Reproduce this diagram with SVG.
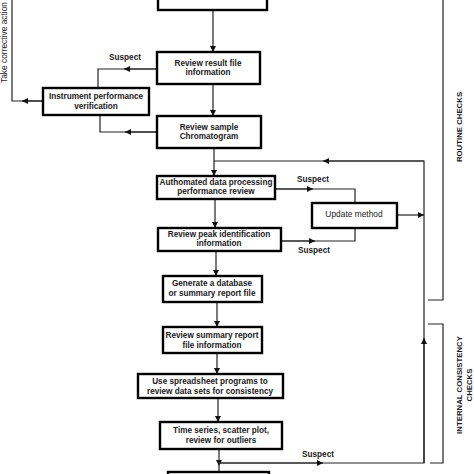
<svg xmlns="http://www.w3.org/2000/svg" width="474" height="474" viewBox="0 0 474 474">
<defs>
<style>
.box{fill:#fff;stroke:#000;stroke-width:2.4}
.t{font-family:"Liberation Sans",Arial,sans-serif;font-size:8.2px;font-weight:bold;fill:#1a1a1a;text-anchor:middle}
.tn{font-family:"Liberation Sans",Arial,sans-serif;font-size:8.4px;fill:#1a1a1a;text-anchor:middle}
.ln{fill:none;stroke:#222;stroke-width:1.2}
.side{font-family:"Liberation Sans",Arial,sans-serif;font-size:7.8px;font-weight:bold;fill:#1a1a1a;text-anchor:middle}
</style>
<marker id="ah" viewBox="0 0 10 10" refX="10" refY="5" markerWidth="6" markerHeight="6" markerUnits="userSpaceOnUse" orient="auto">
<path d="M0,0L10,5L0,10z" fill="#111"/>
</marker>
</defs>
<rect width="474" height="474" fill="#fff"/>

<g id="connectors">
<line class="ln" x1="213" y1="10" x2="213" y2="52" marker-end="url(#ah)"/>
<line class="ln" x1="213" y1="84" x2="213" y2="116" marker-end="url(#ah)"/>
<line class="ln" x1="214" y1="148" x2="214" y2="176" marker-end="url(#ah)"/>
<line class="ln" x1="215" y1="199" x2="215" y2="228" marker-end="url(#ah)"/>
<line class="ln" x1="216" y1="251" x2="216" y2="276" marker-end="url(#ah)"/>
<line class="ln" x1="217" y1="302" x2="217" y2="327" marker-end="url(#ah)"/>
<line class="ln" x1="217" y1="353" x2="217" y2="374" marker-end="url(#ah)"/>
<line class="ln" x1="218" y1="398" x2="218" y2="422" marker-end="url(#ah)"/>
<line class="ln" x1="219" y1="449" x2="219" y2="466" marker-end="url(#ah)"/>
<line class="ln" x1="219" y1="466" x2="219" y2="474"/>

<polyline class="ln" points="157,69 98,69 98,88"/>
<line class="ln" x1="157" y1="69" x2="124" y2="69" marker-end="url(#ah)"/>
<polyline class="ln" points="43,101 12,101 12,0"/>
<line class="ln" x1="43" y1="101" x2="22" y2="101" marker-end="url(#ah)"/>
<polyline class="ln" points="100,115 100,132 157,132"/>
<line class="ln" x1="157" y1="132" x2="125" y2="132" marker-end="url(#ah)"/>

<polyline class="ln" points="219,463 424,463 424,161 214,161"/>
<line class="ln" x1="219" y1="463" x2="323" y2="463" marker-end="url(#ah)"/>
<line class="ln" x1="424" y1="463" x2="424" y2="338" marker-end="url(#ah)"/>
<line class="ln" x1="424" y1="161" x2="323" y2="161" marker-end="url(#ah)"/>

<polyline class="ln" points="275,189 355,189 355,203"/>
<line class="ln" x1="275" y1="189" x2="313" y2="189" marker-end="url(#ah)"/>
<polyline class="ln" points="281,241 355,241 355,228"/>
<line class="ln" x1="281" y1="241" x2="315" y2="241" marker-end="url(#ah)"/>
<line class="ln" x1="397" y1="215" x2="424" y2="215" marker-end="url(#ah)"/>

<polyline class="ln" points="443,0 443,300 428,300"/>
<polyline class="ln" points="428,324 443,324 443,463 430,463"/>
</g>

<g id="n_top"><rect class="box" x="158" y="-20" width="109" height="30"/></g>

<g id="n_result">
<rect class="box" x="157" y="52" width="103" height="32"/>
<text class="t" x="208" y="66">Review result file</text>
<text class="t" x="208" y="75">information</text>
</g>
<text class="t" x="125" y="60">Suspect</text>

<g id="n_instrument">
<rect class="box" x="43" y="88" width="106" height="27"/>
<text class="t" x="96" y="99">Instrument performance</text>
<text class="t" x="96" y="109">verification</text>
</g>

<text class="tn" transform="translate(7,83) rotate(-90)" style="text-anchor:start">Take corrective action</text>

<g id="n_sample">
<rect class="box" x="157" y="116" width="104" height="32"/>
<text class="t" x="209" y="130">Review sample</text>
<text class="t" x="209" y="139">Chromatogram</text>
</g>

<g id="n_auto">
<rect class="box" x="157" y="176" width="118" height="23"/>
<text class="t" x="216" y="185">Authomated data processing</text>
<text class="t" x="216" y="194">performance review</text>
</g>
<text class="t" x="313" y="182">Suspect</text>

<g id="n_update">
<rect class="box" x="312" y="203" width="85" height="25"/>
<text class="tn" x="354" y="217">Update method</text>
</g>

<g id="n_peak">
<rect class="box" x="158" y="228" width="123" height="23"/>
<text class="t" x="219" y="237">Review peak identification</text>
<text class="t" x="219" y="246">information</text>
</g>
<text class="t" x="314" y="253">Suspect</text>

<g id="n_generate">
<rect class="box" x="163" y="276" width="99" height="26"/>
<text class="t" x="212" y="286">Generate a database</text>
<text class="t" x="212" y="296">or summary report file</text>
</g>

<g id="n_summary">
<rect class="box" x="163" y="327" width="99" height="26"/>
<text class="t" x="212" y="338">Review summary report</text>
<text class="t" x="212" y="348">file information</text>
</g>

<g id="n_spreadsheet">
<rect class="box" x="138" y="374" width="145" height="24"/>
<text class="t" x="210" y="384">Use spreadsheet programs to</text>
<text class="t" x="210" y="394">review data sets for consistency</text>
</g>

<g id="n_timeseries">
<rect class="box" x="160" y="422" width="122" height="27"/>
<text class="t" x="221" y="433">Time series, scatter plot,</text>
<text class="t" x="221" y="443">review for outliers</text>
</g>
<text class="t" x="318" y="457">Suspect</text>

<g id="n_bottom"><rect class="box" x="168" y="472" width="101" height="20"/></g>

<text class="side" transform="translate(462,127) rotate(-90)">ROUTINE CHECKS</text>
<text class="side" transform="translate(462,385) rotate(-90)">INTERNAL CONSISTENCY</text>
<text class="side" transform="translate(472,385) rotate(-90)">CHECKS</text>
</svg>
